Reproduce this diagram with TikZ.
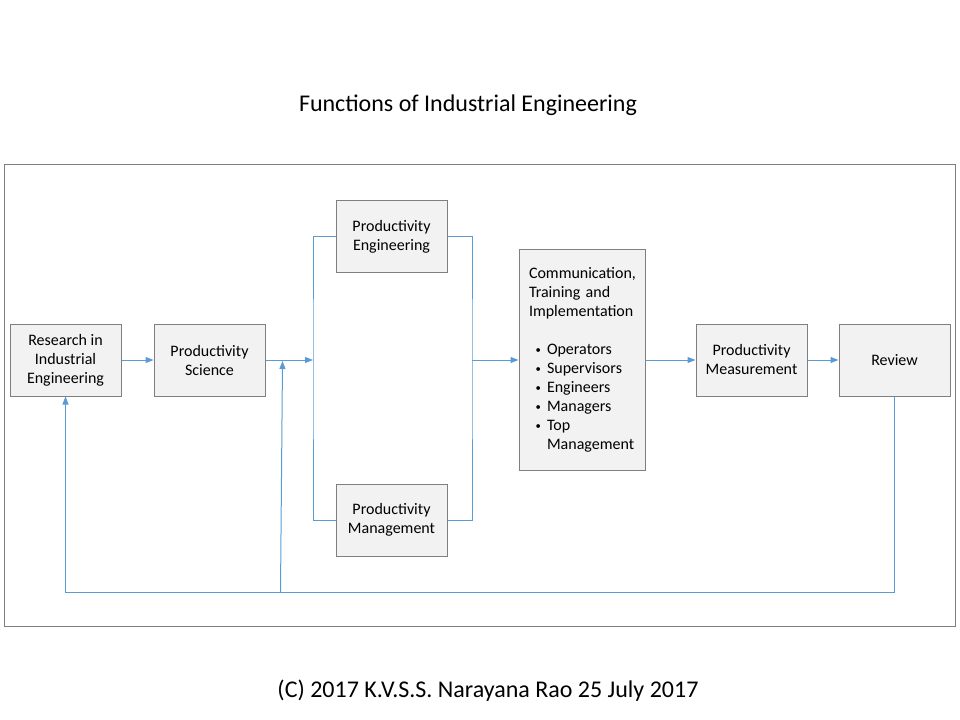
\documentclass[tikz,border=0pt]{standalone}
\usepackage{fontspec}
\setmainfont{Carlito}
\usetikzlibrary{arrows.meta}
\definecolor{linkblue}{HTML}{5B9BD5}
\definecolor{boxfill}{HTML}{F2F2F2}
\definecolor{boxline}{HTML}{7F7F7F}
\newcommand{\blt}[1]{\hspace*{5pt}\makebox[8.5pt][l]{\fontsize{8}{8}\selectfont\raisebox{0.8pt}{•}}#1}
\begin{document}
\begin{tikzpicture}[x=0.75pt,y=-0.75pt,
  box/.style={draw=boxline,fill=boxfill,line width=0.75pt,minimum width=83.25pt,minimum height=54pt,align=center,inner sep=2pt,font=\fontsize{12}{14.25}\selectfont},
  link/.style={draw=linkblue,line width=0.75pt},
  arr/.style={link,-{Triangle[length=6pt,width=4.5pt]}}]
\useasboundingbox (0,0) rectangle (960,720);
\node[draw=boxline,line width=0.6pt,minimum width=713.25pt,minimum height=346.5pt,anchor=north west,inner sep=0pt] (frame) at (4,164) {};
\node[font=\fontsize{18}{21}\selectfont] (title) at (468,105) {Functions of Industrial Engineering};
\node[font=\fontsize{18}{21}\selectfont] (foot) at (488,691) {(C) 2017 K.V.S.S. Narayana Rao 25 July 2017};
\node[box] (res) at (65.5,360) {Research in\\Industrial\\Engineering};
\node[box] (sci) at (209.5,360) {Productivity\\Science};
\node[box] (eng) at (391.5,237) {Productivity\\Engineering};
\node[box] (man) at (391.5,520) {Productivity\\Management};
\node[box,minimum width=94.5pt,minimum height=165pt,text width=79.5pt,inner xsep=7.5pt,align=left] (com) at (582,360) {Communication,\\Training and\\Implementation\\[14.25pt]
\blt{Operators}\\
\blt{Supervisors}\\
\blt{Engineers}\\
\blt{Managers}\\
\blt{Top}\\
\hspace*{13.5pt}Management};
\node[box] (mea) at (751.5,360) {Productivity\\Measurement};
\node[box] (rev) at (894.5,360) {Review};
\coordinate (lb) at (313,360);
\coordinate (rb) at (472,360);
\coordinate (bl) at (65.5,592);
\coordinate (bm) at (280.5,592);
\coordinate (bmt) at (282.5,361);
\coordinate (br) at (894.5,592);
\draw[arr] (res) -- (sci);
\draw[arr] (sci) -- (lb);
\draw[link] (eng.west) -| (lb) |- (man.west);
\draw[link] (eng.east) -| (rb) |- (man.east);
\draw[arr] (rb) -- (com);
\draw[arr] (com) -- (mea);
\draw[arr] (mea) -- (rev);
\draw[arr] (rev.south) -- (br) -- (bl) -- (res.south);
\draw[arr] (bm) -- (bmt);
\end{tikzpicture}
\end{document}
